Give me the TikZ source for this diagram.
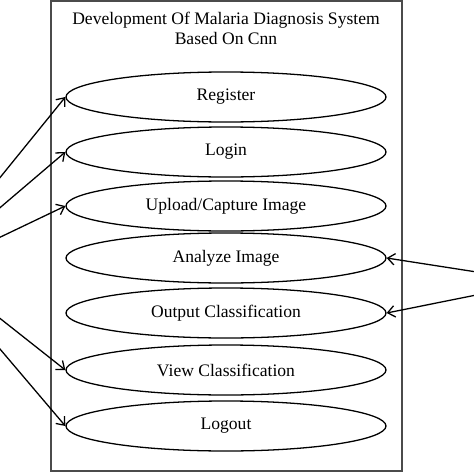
\documentclass[tikz,border=0pt]{standalone}
\usepackage{fontspec}
\setmainfont{Liberation Serif}
\usetikzlibrary{arrows.meta, positioning, shapes.geometric}
\definecolor{BoxGray}{RGB}{75, 75, 75}

\begin{document}
\begin{tikzpicture}[
    x=0.7pt, y=-0.7pt,
    usecase/.style={ellipse, draw, line width=0.9pt, fill=white, minimum width=224pt, minimum height=35pt, inner sep=0pt, font=\fontsize{12.3}{14}\selectfont},
    system/.style={draw=BoxGray, line width=1.4pt},
    arrow/.style={-{Straight Barb[length=5pt, width=8pt]}, line width=0.9pt}
]
\useasboundingbox (0,0) rectangle (474,474);
\clip (0,0) rectangle (474,474);

% System boundary
\draw[system] (51,1) rectangle (402,471);
\node[align=center, font=\fontsize{12.3}{14}\selectfont] (title) at (226,28) {Development Of Malaria Diagnosis System\\Based On Cnn};

% Use cases
\node[usecase] (reg) at (226,97) {Register};
\node[usecase] (login) at (226,152) {Login};
\node[usecase] (upload) at (226,206) {Upload/Capture Image};
\node[usecase] (analyze) at (226,258) {Analyze Image};
\node[usecase] (output) at (226,313) {Output Classification};
\node[usecase] (view) at (226,370) {View Classification};
\node[usecase] (logout) at (226,426) {Logout};

% Actors (outside the picture)
\coordinate (user1) at (-79,275);
\coordinate (user2) at (-79,256);
\coordinate (model) at (541,282);

% Associations
\draw[arrow] (user1) -- (reg.west);
\draw[arrow] (user1) -- (login.west);
\draw[arrow] (user1) -- (upload.west);
\draw[arrow] (user2) -- (view.west);
\draw[arrow] (user2) -- (logout.west);
\draw[arrow] (model) -- (analyze.east);
\draw[arrow] (model) -- (output.east);

\end{tikzpicture}
\end{document}
